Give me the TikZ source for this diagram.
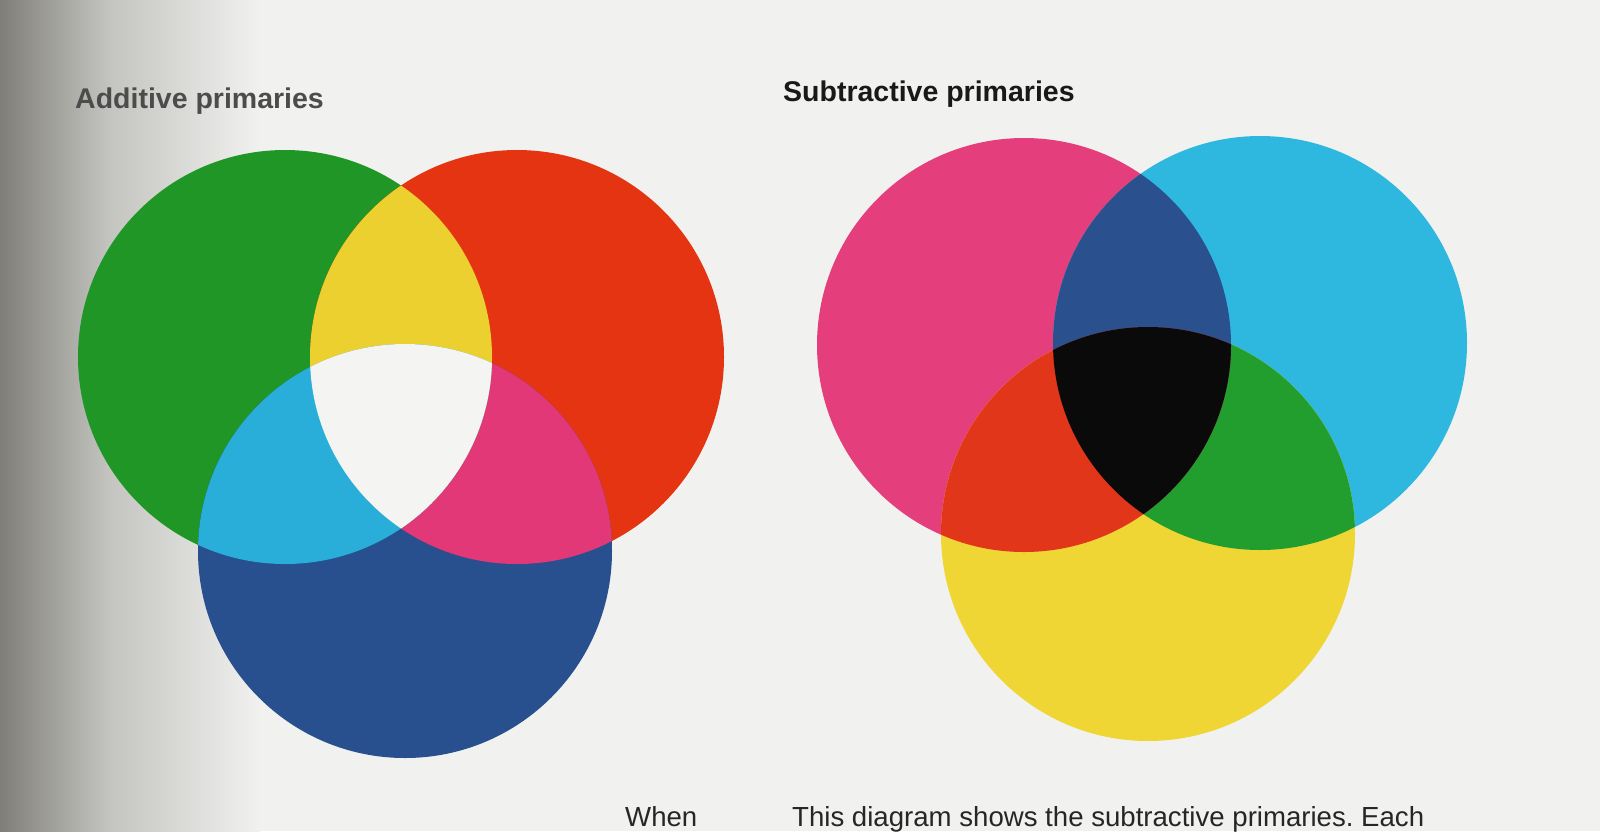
\documentclass[tikz,border=0pt]{standalone}
\usepackage{fontspec}
\setmainfont{Liberation Sans}
\usepackage{tikz}
\frenchspacing
\definecolor{paper}{RGB}{241,242,239}
\definecolor{shadow}{RGB}{128,126,120}
\definecolor{halfshadow}{RGB}{196,197,193}
\definecolor{addgreen}{RGB}{31,150,38}
\definecolor{addred}{RGB}{229,52,18}
\definecolor{addblue}{RGB}{40,80,142}
\definecolor{addyellow}{RGB}{236,208,48}
\definecolor{addcyan}{RGB}{40,174,216}
\definecolor{addmagenta}{RGB}{226,56,120}
\definecolor{addwhite}{RGB}{244,244,242}
\definecolor{submagenta}{RGB}{228,62,124}
\definecolor{subcyan}{RGB}{46,184,224}
\definecolor{subyellow}{RGB}{239,214,52}
\definecolor{subblue}{RGB}{42,80,142}
\definecolor{subred}{RGB}{226,54,26}
\definecolor{subgreen}{RGB}{34,158,46}
\definecolor{subblack}{RGB}{10,10,10}
\def\rad{207pt}
\tikzstyle{title}=[anchor=base west,inner sep=0pt,font=\fontsize{28.5}{34}\selectfont\bfseries]
\tikzstyle{body}=[anchor=base west,inner sep=0pt,font=\fontsize{27.6}{33}\selectfont,text=black!85]

\begin{document}
\begin{tikzpicture}[x=1pt,y=-1pt]
      \useasboundingbox (0,0) rectangle (1600,831);
      \clip (0,0) rectangle (1600,831);
      \fill[paper] (0,0) rectangle (1600,831);
      \shade[left color=shadow,right color=halfshadow] (0,0) rectangle (110,831);
      \shade[left color=halfshadow,right color=paper] (110,0) rectangle (260,831);
      % additive primaries
      \coordinate (G) at (285,357);
      \coordinate (R) at (517,357);
      \coordinate (B) at (405,551);
      \fill[addgreen] (G) circle[radius=\rad];
      \fill[addred] (R) circle[radius=\rad];
      \fill[addblue] (B) circle[radius=\rad];
      \begin{scope}
        \clip (R) circle[radius=\rad];
        \fill[addmagenta] (B) circle[radius=\rad];
      \end{scope}
      \begin{scope}
        \clip (G) circle[radius=\rad];
        \fill[addyellow] (R) circle[radius=\rad];
        \fill[addcyan] (B) circle[radius=\rad];
        \clip (R) circle[radius=\rad];
        \fill[addwhite] (B) circle[radius=\rad];
      \end{scope}
      % subtractive primaries
      \coordinate (M) at (1024,345);
      \coordinate (C) at (1260,343);
      \coordinate (Y) at (1148,534);
      \fill[submagenta] (M) circle[radius=\rad];
      \fill[subcyan] (C) circle[radius=\rad];
      \fill[subyellow] (Y) circle[radius=\rad];
      \begin{scope}
        \clip (C) circle[radius=\rad];
        \fill[subgreen] (Y) circle[radius=\rad];
      \end{scope}
      \begin{scope}
        \clip (M) circle[radius=\rad];
        \fill[subblue] (C) circle[radius=\rad];
        \fill[subred] (Y) circle[radius=\rad];
        \clip (C) circle[radius=\rad];
        \fill[subblack] (Y) circle[radius=\rad];
      \end{scope}
      \node[title, text=black!70] at (75,108) (addtitle) {Additive primaries};
      \node[title, text=black!90] at (783,101) (subtitle) {Subtractive primaries};
      \node[body] at (625,826) (addtext) {When};
      \node[body] at (792,826) (subtext) {This diagram shows the subtractive primaries. Each};
    \end{tikzpicture}
\end{document}
